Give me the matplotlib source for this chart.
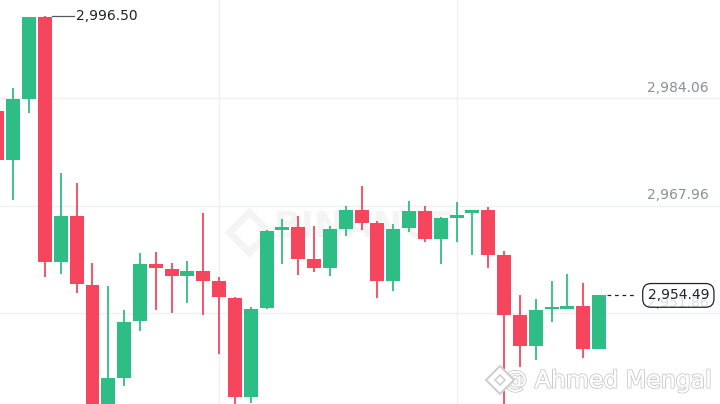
import matplotlib.pyplot as plt
import matplotlib.patheffects as pe
from matplotlib.patches import Rectangle

# candle data (open, high, low, close)
opens = [2982.2, 2974.82, 2983.98, 2996.3, 2959.5, 2966.41, 2956.05, 2936.0, 2942.09, 2950.64,
         2959.2, 2958.45, 2957.4, 2958.15, 2956.65, 2954.1, 2939.23, 2952.6, 2964.31, 2964.76,
         2959.95, 2958.6, 2964.46, 2967.31, 2965.36, 2956.65, 2964.61, 2967.16, 2962.96, 2966.11,
         2966.86, 2967.31, 2960.56, 2951.54, 2946.89, 2952.45, 2952.45, 2952.9, 2946.44]
highs = [2983.0, 2985.7, 2996.3, 2996.5, 2972.87, 2971.37, 2959.35, 2955.9, 2952.3, 2960.86,
         2961.01, 2959.35, 2959.65, 2966.86, 2957.25, 2954.3, 2952.75, 2964.3, 2965.96, 2966.41,
         2964.91, 2964.91, 2967.92, 2970.92, 2965.66, 2965.21, 2968.67, 2967.92, 2966.26, 2968.52,
         2967.31, 2967.77, 2961.16, 2954.55, 2953.95, 2956.65, 2957.7, 2956.35, 2954.49]
lows = [2974.0, 2968.82, 2981.88, 2957.25, 2957.7, 2954.85, 2935.5, 2935.0, 2940.88, 2949.14,
        2952.3, 2951.84, 2953.35, 2951.54, 2945.69, 2936.0, 2938.33, 2952.45, 2959.2, 2957.55,
        2958.0, 2957.4, 2963.41, 2964.31, 2954.1, 2955.15, 2964.01, 2962.51, 2959.2, 2962.51,
        2960.56, 2958.6, 2935.0, 2943.74, 2944.79, 2950.49, 2952.45, 2945.09, 2946.44]
closes = [2974.82, 2983.98, 2996.3, 2959.5, 2966.41, 2956.2, 2936.5, 2942.09, 2950.49, 2959.2,
          2958.6, 2957.4, 2958.15, 2956.65, 2954.25, 2939.23, 2952.45, 2964.16, 2964.76, 2959.95,
          2958.6, 2964.46, 2967.31, 2965.36, 2956.65, 2964.46, 2967.16, 2962.96, 2966.11, 2966.56,
          2967.31, 2960.56, 2951.54, 2946.89, 2952.3, 2952.6, 2952.9, 2946.44, 2954.49]

grid_prices = [2984.06, 2967.96, 2951.86]
grid_labels = ['2,984.06', '2,967.96', '2,951.86']
high_label = '2,996.50'
last_label = '2,954.49'

GREEN = '#2ebd85'
RED = '#f6465d'

fig = plt.figure(figsize=(7.2, 4.04), dpi=100)
ax = fig.add_axes([0, 0, 1, 1])
ax.set_xlim(0.158, 45.64)
ax.set_ylim(2938.18, 2998.85)
ax.axis('off')

# grid
for p in grid_prices:
    ax.axhline(p, color='#eff0f1', lw=1, zorder=0)
for xg in [14, 29]:
    ax.axvline(xg, color='#eff0f1', lw=1, zorder=0)

# watermarks
ax.text(0.505, 0.44, 'BINANCE', transform=ax.transAxes, fontsize=26, fontweight='bold',
        color='#f4f4f4', ha='center', va='center', zorder=0.5)
ax.plot([15.9], [2964.0], marker='D', ms=20, mfc='none', mec='#f4f4f4', mew=5, zorder=0.5)

body_w = 0.88
for i in range(len(opens)):
    o, h, l, c = opens[i], highs[i], lows[i], closes[i]
    col = GREEN if c >= o else RED
    ax.vlines(i, l, h, color=col, lw=1.3, zorder=2)
    bottom = min(o, c)
    height = max(abs(c - o), 0.3)
    ax.add_patch(Rectangle((i - body_w / 2, bottom), body_w, height,
                           facecolor=col, edgecolor='none', zorder=3))

# right side price labels (the lowest one sits behind the last-price box)
for p, lab in zip(grid_prices, grid_labels):
    ax.text(44.95, p + 0.5, lab, fontsize=10, color='#8a9099', ha='right', va='bottom', zorder=4)

# high marker
hi_i = highs.index(max(highs))
ax.plot([hi_i + 0.45, hi_i + 1.85], [max(highs)] * 2, color='#555a60', lw=0.9, zorder=4)
ax.text(hi_i + 1.95, max(highs), high_label, fontsize=10, color='#1e2329',
        ha='left', va='center', zorder=4)

# last price line + box
last = closes[-1]
ax.plot([len(closes) - 0.5, 40.3], [last, last], color='#1e2329', lw=0.9,
        ls=(0, (3, 3)), zorder=4)
ax.text(44.95, last, last_label, fontsize=10, color='#1e2329', ha='right', va='center',
        zorder=6,
        bbox=dict(boxstyle='round,pad=0.35,rounding_size=0.6', fc=(1, 1, 1, 0.7),
                  ec='#1e2329', lw=0.9))

# author watermark
t = ax.text(0.988, 0.058, '@ Ahmed Mengal', transform=ax.transAxes, fontsize=17,
            color='white', ha='right', va='center', zorder=7)
t.set_path_effects([pe.withStroke(linewidth=1.5, foreground='#cccccc'), pe.Normal()])
ax.plot([31.74], [2941.78], marker='D', ms=14, mfc='white', mec='#cfcfcf', mew=1.5, zorder=7)
ax.plot([31.74], [2941.78], marker='D', ms=5, mfc='none', mec='#cfcfcf', mew=1.2, zorder=7)

fig.savefig('out.png', dpi=100)
